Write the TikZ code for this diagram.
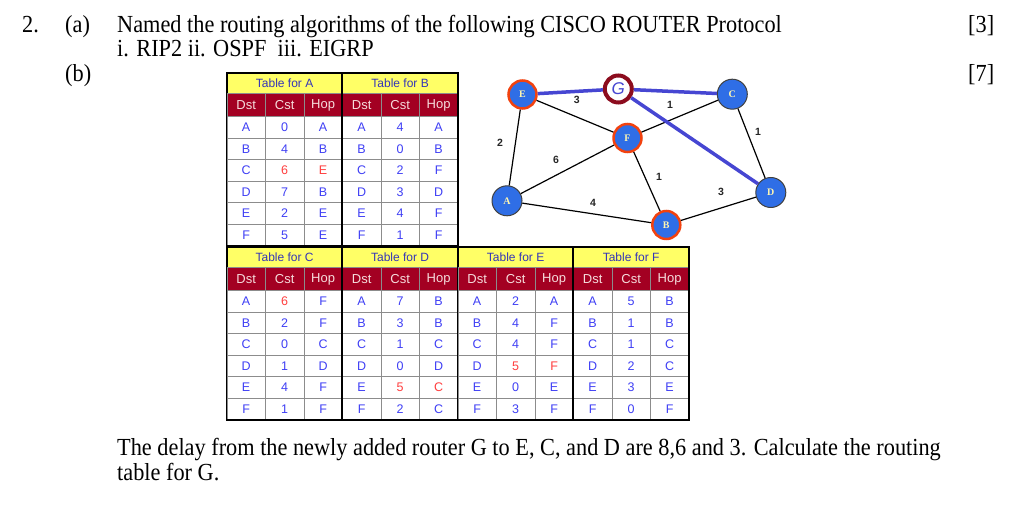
\documentclass[tikz,border=0pt]{standalone}
\usepackage{fontspec}
\setmainfont{Liberation Serif}
\setsansfont{Liberation Sans}
\usepackage{graphicx}
\usepackage{tikz}
\usetikzlibrary{arrows,shapes}
\definecolor{nodeblue}{HTML}{2F6EE6}
\definecolor{hotred}{HTML}{F2420F}
\definecolor{gring}{HTML}{8C0C1E}
\definecolor{linkblue}{HTML}{4646D2}
\definecolor{nodetext}{HTML}{FFF6B0}
\definecolor{ttlyellow}{HTML}{FFFF66}
\definecolor{ttlblue}{HTML}{3535B8}
\definecolor{hdred}{HTML}{A30022}
\definecolor{hdtext}{HTML}{F6DCDC}
\definecolor{cellblue}{HTML}{3F3FF5}
\definecolor{cellred}{HTML}{FF3E3E}
\tikzstyle{vertex}=[circle,draw=black!75,line width=1pt,fill=nodeblue,minimum size=30pt,inner sep=0pt,text=nodetext,font=\rmfamily\bfseries\fontsize{10}{10}\selectfont]
\tikzstyle{hot}=[vertex,draw=hotred,line width=2.5pt,minimum size=28pt]
\tikzstyle{newrouter}=[circle,draw=gring,line width=4pt,fill=white,minimum size=27pt,inner sep=0pt,text=linkblue,font=\sffamily\itshape\fontsize{17}{17}\selectfont]
\tikzstyle{edge}=[draw,line width=1.2pt,-]
\tikzstyle{newedge}=[draw=linkblue,line width=3.5pt,-]
\tikzstyle{weight}=[inner sep=0pt,text=black!85,font=\sffamily\bfseries\fontsize{10.5}{10.5}\selectfont]
\tikzstyle{qtext}=[inner sep=0pt,anchor=base west,font=\fontsize{22.3}{23}\selectfont]
\tikzstyle{tbltitle}=[draw=black,line width=.8pt,fill=ttlyellow,minimum width=115.5pt,minimum height=20.5pt,inner sep=0pt,text=ttlblue,font=\sffamily\fontsize{12}{12}\selectfont]
\tikzstyle{tblhead}=[draw=black!45,line width=.8pt,fill=hdred,minimum width=38.5pt,minimum height=22.5pt,inner sep=0pt,text=hdtext,font=\sffamily\fontsize{13}{13}\selectfont]
\tikzstyle{tblcell}=[draw=black!45,line width=.8pt,fill=white,minimum width=38.5pt,minimum height=21.6pt,inner sep=0pt,text=cellblue,font=\sffamily\fontsize{12.5}{12.5}\selectfont]
\tikzstyle{tblframe}=[draw=black,line width=1.8pt]
\newcommand{\hl}[1]{\textcolor{cellred}{#1}}
\newcommand{\tall}[1]{\scalebox{1}[1.1]{#1}}
% one routing table: name, left, top, title, rows
\newcommand{\routetable}[5]{%
  \node[tbltitle,anchor=north west] (#1-t) at (#2,#3) {#4};
  \foreach \hd [count=\k] in {Dst,Cst,Hop}
    \node[tblhead,anchor=north west] (#1-h\k) at ({#2+(\k-1)*38.5},{#3+20.5}) {\hd};
  \foreach \d/\c/\h [count=\r] in {#5} {
    \node[tblcell,anchor=north west] (#1-\r-1) at (#2,{#3+43+(\r-1)*21.6}) {\d};
    \node[tblcell,anchor=north west] (#1-\r-2) at ({#2+38.5},{#3+43+(\r-1)*21.6}) {\c};
    \node[tblcell,anchor=north west] (#1-\r-3) at ({#2+77},{#3+43+(\r-1)*21.6}) {\h};
  }
  \draw[tblframe] (#1-t.north west) rectangle (#1-6-3.south east);
}
\begin{document}
\begin{tikzpicture}[x=1pt,y=-1pt]
  \useasboundingbox[fill=white] (0,0) rectangle (1023,518);
  % question text
  \node[qtext] (qnum) at (22,33) {\tall{2.}};
  \node[qtext] (qa) at (65,33) {\tall{(a)}};
  \node[qtext] (qa1) at (117,33) {\tall{Named the routing algorithms of the following CISCO ROUTER Protocol}};
  \node[qtext] (qa2) at (117,56.5) {\tall{i. RIP2 ii. OSPF\ \ iii. EIGRP}};
  \node[qtext] (mk3) at (968,33) {\tall{[3]}};
  \node[qtext] (qb) at (65,81.5) {\tall{(b)}};
  \node[qtext] (mk7) at (968,81.5) {\tall{[7]}};
  \node[qtext] (qb1) at (117,456) {\tall{The delay from the newly added router G to E, C, and D are 8,6 and 3. Calculate the routing}};
  \node[qtext] (qb2) at (117,480) {\tall{table for G.}};
  % routing tables
  \routetable{tA}{226.5}{73}{Table for A}{A/0/A,B/4/B,C/\hl{6}/\hl{E},D/7/B,E/2/E,F/5/E}
  \routetable{tB}{342}{73}{Table for B}{A/4/A,B/0/B,C/2/F,D/3/D,E/4/F,F/1/F}
  \routetable{tC}{226.5}{247}{Table for C}{A/\hl{6}/F,B/2/F,C/0/C,D/1/D,E/4/F,F/1/F}
  \routetable{tD}{342}{247}{Table for D}{A/7/B,B/3/B,C/1/C,D/0/D,E/\hl{5}/\hl{C},F/2/C}
  \routetable{tE}{457.5}{247}{Table for E}{A/2/A,B/4/F,C/4/F,D/\hl{5}/\hl{F},E/0/E,F/3/F}
  \routetable{tF}{573}{247}{Table for F}{A/5/B,B/1/B,C/1/C,D/2/C,E/3/E,F/0/F}
  % network
  \node[hot] (E) at (522.5,94.5) {E};
  \node[newrouter] (G) at (618.3,89) {G};
  \node[vertex] (C) at (732.3,94.2) {C};
  \node[hot] (F) at (627.5,138) {F};
  \node[vertex] (A) at (507,200.8) {A};
  \node[hot] (B) at (666.3,225) {B};
  \node[vertex] (D) at (770.8,192.5) {D};
  \draw[edge] (E) to (F);
  \draw[edge] (E) to (A);
  \draw[edge] (A) to (F);
  \draw[edge] (A) to (B);
  \draw[edge] (F) to (B);
  \draw[edge] (F) to (C);
  \draw[edge] (C) to (D);
  \draw[edge] (B) to (D);
  \draw[newedge] (E) to (G);
  \draw[newedge] (G) to (C);
  \draw[newedge] (G) to (D);
  \node[weight] (wEF) at (576.7,100) {3};
  \node[weight] (wEA) at (500,143) {2};
  \node[weight] (wAF) at (556,160) {6};
  \node[weight] (wFC) at (670,105) {1};
  \node[weight] (wCD) at (758,132) {1};
  \node[weight] (wFB) at (659,177) {1};
  \node[weight] (wAB) at (593,203) {4};
  \node[weight] (wBD) at (721,192) {3};
\end{tikzpicture}
\end{document}
